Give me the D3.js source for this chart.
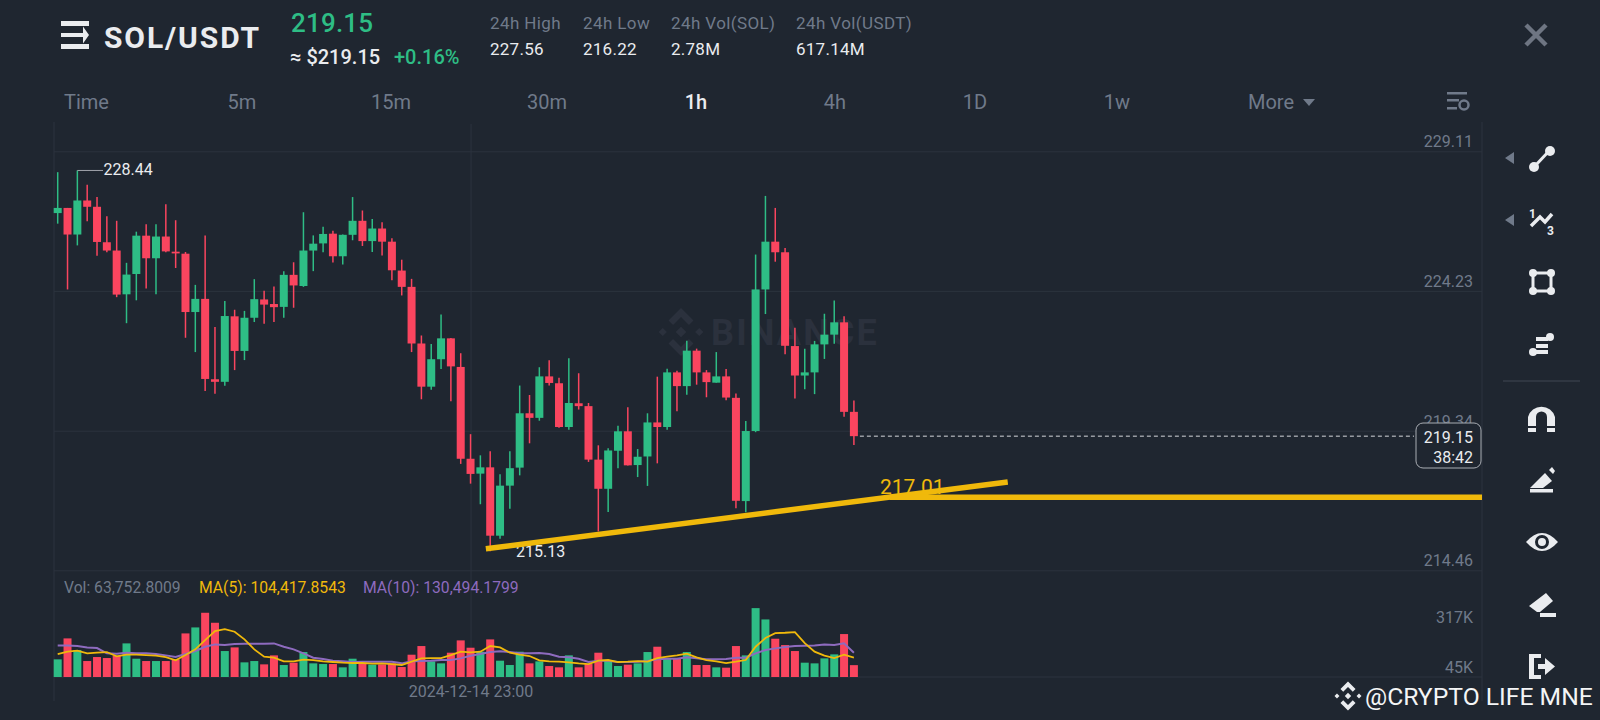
<!DOCTYPE html>
<html>
<head>
<meta charset="utf-8">
<script src="https://cdn.jsdelivr.net/npm/d3@7"></script>
<style>
  html, body { margin: 0; padding: 0; background: #1F2630; overflow: hidden; }
  text { font-family: Roboto, sans-serif; }
</style>
</head>
<body>
<div id="my_dataviz"></div>
<script>
// candles, one entry per hour
var opens = [226.95, 227.13, 226.20, 227.39, 227.17, 225.93, 225.64, 224.11, 224.82, 226.16,
  225.37, 226.13, 225.60, 225.53, 223.49, 223.95, 221.14, 221.05, 223.34, 222.13,
  223.29, 223.93, 223.77, 223.67, 224.79, 224.40, 225.64, 225.89, 226.23, 225.44,
  226.19, 226.68, 225.97, 226.41, 225.95, 224.94, 224.37, 222.39, 220.88, 221.84,
  222.57, 221.57, 218.36, 217.84, 218.06, 215.67, 217.42, 218.05, 219.95, 219.79,
  221.24, 221.00, 219.47, 220.30, 220.20, 218.33, 217.31, 218.64, 219.32, 218.14,
  218.44, 219.63, 219.47, 221.38, 220.90, 222.14, 221.38, 221.02, 221.24, 220.49,
  216.88, 219.33, 224.28, 225.95, 225.58, 222.30, 221.27, 221.38, 222.36, 222.70,
  223.13, 220.00];
var highs = [228.38, 227.13, 228.44, 227.94, 227.51, 226.84, 226.68, 225.21, 226.30, 226.56,
  226.56, 227.26, 226.70, 225.59, 224.44, 226.17, 222.97, 223.88, 223.57, 223.53,
  224.64, 224.23, 224.38, 224.92, 225.23, 226.98, 226.17, 226.47, 226.33, 226.20,
  227.51, 227.04, 226.74, 226.63, 226.07, 225.32, 224.65, 222.67, 222.37, 223.40,
  222.58, 222.05, 219.22, 218.48, 218.62, 217.82, 218.62, 220.92, 220.59, 221.56,
  221.80, 221.19, 221.87, 221.35, 220.31, 218.83, 218.73, 219.51, 220.16, 218.70,
  219.95, 221.23, 221.51, 221.44, 222.49, 222.21, 221.46, 222.09, 221.50, 220.64,
  219.68, 225.50, 227.55, 227.13, 225.73, 222.94, 222.21, 222.48, 223.43, 223.89,
  223.34, 220.40];
var lows = [226.58, 224.28, 225.82, 226.66, 225.46, 225.58, 224.01, 223.10, 223.90, 224.31,
  224.11, 225.58, 225.03, 222.59, 222.09, 220.73, 220.63, 220.91, 221.46, 221.81,
  223.14, 223.08, 223.14, 223.29, 223.64, 224.37, 224.92, 225.58, 225.22, 225.15,
  226.00, 225.80, 225.59, 225.47, 224.60, 224.07, 222.09, 220.44, 220.77, 221.50,
  220.37, 218.18, 217.49, 216.77, 215.13, 215.56, 216.61, 217.78, 218.90, 219.69,
  220.92, 219.44, 219.37, 220.08, 218.25, 215.82, 216.50, 218.03, 218.12, 217.72,
  217.41, 218.20, 219.37, 220.02, 220.60, 220.95, 220.51, 221.02, 220.41, 216.63,
  216.49, 219.29, 223.42, 225.25, 222.01, 220.47, 220.79, 220.62, 221.85, 222.38,
  219.83, 218.84];
var closes = [227.13, 226.20, 227.39, 227.17, 225.94, 225.64, 224.10, 224.80, 226.16, 225.37,
  226.13, 225.61, 225.54, 223.49, 223.95, 221.15, 221.05, 223.35, 222.13, 223.29,
  223.94, 223.75, 223.66, 224.79, 224.42, 225.64, 225.88, 226.22, 225.44, 226.19,
  226.68, 225.97, 226.41, 225.95, 224.95, 224.37, 222.39, 220.88, 221.84, 222.57,
  221.59, 218.36, 217.83, 218.06, 215.67, 217.42, 218.03, 219.95, 219.79, 221.24,
  221.01, 219.47, 220.31, 220.20, 218.33, 217.31, 218.65, 219.32, 218.13, 218.43,
  219.63, 219.47, 221.38, 220.90, 222.14, 221.38, 221.04, 221.24, 220.50, 216.89,
  219.33, 224.28, 225.95, 225.58, 222.31, 221.27, 221.38, 222.36, 222.70, 223.13,
  220.00, 219.15];

// volume pane, in thousands
var volumes = [94.8, 207.4, 144.8, 85.8, 107.3, 101.9, 114.4, 180.6, 98.3, 85.8,
  85.8, 85.8, 94.8, 234.2, 266.4, 345.1, 291.4, 139.5, 159.1, 78.7,
  85.8, 67.9, 116.2, 64.4, 76.9, 134.1, 73.3, 69.7, 69.7, 51.9,
  98.3, 71.5, 66.2, 67.9, 73.3, 53.6, 119.8, 166.3, 84.0, 73.3,
  130.5, 196.7, 157.3, 135.9, 202.0, 87.6, 64.4, 135.9, 73.3, 84.0,
  59.0, 51.9, 116.2, 51.9, 69.7, 130.5, 87.6, 59.0, 66.2, 73.3,
  134.1, 162.7, 100.1, 100.1, 134.1, 64.4, 64.4, 51.9, 50.1, 166.3,
  116.2, 370.1, 309.3, 205.6, 171.6, 139.5, 76.9, 73.3, 100.1, 121.6,
  230.7, 63.75];
var ma5 = [123.4, 135.9, 141.3, 127.0, 130.5, 134.1, 110.9, 119.8, 119.8, 118.0,
  114.4, 107.3, 89.4, 118.0, 148.4, 198.5, 246.7, 257.5, 243.2, 202.0,
  148.4, 109.1, 103.7, 84.0, 84.0, 93.0, 91.2, 84.0, 80.5, 76.9,
  75.1, 75.1, 71.5, 73.3, 69.7, 64.4, 82.2, 100.1, 101.9, 101.9,
  118.0, 135.9, 132.3, 135.9, 166.3, 159.1, 130.5, 119.8, 112.6, 89.4,
  84.0, 82.2, 78.7, 73.3, 69.7, 87.6, 91.2, 80.5, 82.2, 85.8,
  82.2, 101.9, 109.1, 116.2, 125.2, 105.5, 91.2, 84.0, 75.1, 82.2,
  91.2, 162.7, 209.2, 236.0, 237.8, 241.4, 182.4, 135.9, 114.4, 101.9,
  119.8, 104.4];
var ma10 = [169.9, 169.9, 166.3, 159.1, 155.6, 127.0, 125.2, 130.5, 127.0, 127.0,
  123.4, 116.2, 107.3, 123.4, 139.5, 162.7, 175.2, 171.6, 177.0, 178.8,
  178.8, 178.8, 180.6, 162.7, 148.4, 127.0, 103.7, 96.6, 87.6, 84.0,
  80.5, 82.2, 82.2, 82.2, 82.2, 73.3, 84.0, 85.8, 87.6, 91.2,
  91.2, 100.1, 114.4, 123.4, 134.1, 137.7, 134.1, 127.0, 127.0, 128.7,
  123.4, 109.1, 105.5, 98.3, 80.5, 87.6, 87.6, 80.5, 80.5, 82.2,
  85.8, 94.8, 98.3, 98.3, 105.5, 100.1, 94.8, 94.8, 96.6, 103.7,
  103.7, 127.0, 144.8, 153.8, 160.9, 166.3, 168.1, 169.9, 175.2, 171.6,
  180.6, 130.5];

// axis labels
var priceTicks = [229.11, 224.23, 219.34, 214.46];
var volumeTicks = [317, 45];
var timeTickIndex = [42];
var timeTickLabels = ["2024-12-14 23:00"];

// hand drawn levels: [candle index, price]
var trendLine = [[43.56, 215.21], [96.65, 217.55]];
var supportLevel = [[84.65, 217.01], [144.9, 217.01]];

// header text
var statLabels = ["24h High", "24h Low", "24h Vol(SOL)", "24h Vol(USDT)"];
var statValues = ["227.56", "216.22", "2.78M", "617.14M"];
var tabs = ["Time", "5m", "15m", "30m", "1h", "4h", "1D", "1w", "More"];

var GREEN = "#2EBD85", RED = "#FA455F", YELLOW = "#F0B90B", PURPLE = "#8E6BBF";
var GREY = "#707A8A", GRID = "#2C333E";

var svg = d3.select("#my_dataviz")
  .append("svg")
    .attr("width", 1600)
    .attr("height", 720)
    .style("display", "block");

// scales
var x = d3.scaleLinear().domain([0, 81]).range([57.7, 853.9]);
var y = d3.scaleLinear().domain([214.46, 229.11]).range([570.3, 151.3]);
var yVol = d3.scaleLinear().domain([0, 317]).range([677, 618]);

function txt(s, px, py, size, fill, anchor, weight) {
  return svg.append("text")
    .attr("x", px).attr("y", py)
    .attr("font-size", size)
    .attr("fill", fill)
    .attr("text-anchor", anchor || "start")
    .attr("font-weight", weight || 400)
    .text(s);
}

// BINANCE mark, drawn in a -1..1 box
var logoPath = "M0,-.22L.22,0L0,.22L-.22,0Z" +
  "M-.76,-.17L-.59,0L-.76,.17L-.93,0Z" +
  "M.76,-.17L.93,0L.76,.17L.59,0Z" +
  "M0,-1L.52,-.48L.33,-.29L0,-.62L-.33,-.29L-.52,-.48Z" +
  "M0,1L.52,.48L.33,.29L0,.62L-.33,.29L-.52,.48Z";

// watermark behind the candles
svg.append("path").attr("d", logoPath)
  .attr("transform", "translate(681,332) scale(24)")
  .attr("fill", "#2B313D");
txt("BINANCE", 711, 345, 36, "#2B313D", "start", 700).attr("letter-spacing", 2.2);

// frame
svg.append("line").attr("x1", 54).attr("x2", 54).attr("y1", 122).attr("y2", 701).attr("stroke", GRID);
svg.append("line").attr("x1", 1482).attr("x2", 1482).attr("y1", 122).attr("y2", 701).attr("stroke", GRID);
svg.append("line").attr("x1", 54).attr("x2", 1482).attr("y1", 677).attr("y2", 677).attr("stroke", GRID);

// price axis, ticks stretched across as the grid
var priceAxis = svg.append("g")
  .attr("transform", "translate(1482,0)")
  .call(d3.axisLeft(y).tickValues(priceTicks).tickSize(1428).tickFormat(d3.format(".2f")));
priceAxis.select(".domain").remove();
priceAxis.selectAll("line").attr("stroke", GRID);
priceAxis.selectAll("text")
  .attr("x", -9).attr("dy", "-0.27em")
  .attr("font-size", 16).attr("fill", GREY)
  .style("font-family", "Roboto, sans-serif");

// volume axis
var volAxis = svg.append("g")
  .attr("transform", "translate(1482,0)")
  .call(d3.axisLeft(yVol).tickValues(volumeTicks).tickSize(0).tickFormat(function(d) { return d + "K"; }));
volAxis.select(".domain").remove();
volAxis.selectAll("text")
  .attr("x", -9).attr("dy", "0.25em")
  .attr("font-size", 16).attr("fill", GREY)
  .style("font-family", "Roboto, sans-serif");

// time axis with its one vertical grid line
var timeAxis = svg.append("g")
  .attr("transform", "translate(0,677)")
  .call(d3.axisBottom(x).tickValues(timeTickIndex).tickSize(-553)
    .tickFormat(function(d, i) { return timeTickLabels[i]; }));
timeAxis.select(".domain").remove();
timeAxis.selectAll("line").attr("stroke", GRID);
timeAxis.selectAll("text")
  .attr("y", 9).attr("dy", "0.71em")
  .attr("font-size", 16).attr("fill", GREY)
  .style("font-family", "Roboto, sans-serif");

// candles
var candles = d3.range(closes.length);
function candleColor(i) { return closes[i] >= opens[i] ? GREEN : RED; }

svg.append("g").selectAll("line")
  .data(candles).enter().append("line")
    .attr("x1", function(i) { return x(i); })
    .attr("x2", function(i) { return x(i); })
    .attr("y1", function(i) { return y(highs[i]); })
    .attr("y2", function(i) { return y(lows[i]); })
    .attr("stroke", candleColor)
    .attr("stroke-width", 1.5);

svg.append("g").selectAll("rect")
  .data(candles).enter().append("rect")
    .attr("x", function(i) { return x(i) - 4; })
    .attr("width", 8)
    .attr("y", function(i) { return y(Math.max(opens[i], closes[i])); })
    .attr("height", function(i) { return Math.max(1.5, Math.abs(y(opens[i]) - y(closes[i]))); })
    .attr("fill", candleColor);

// volume bars
svg.append("g").selectAll("rect")
  .data(candles).enter().append("rect")
    .attr("x", function(i) { return x(i) - 4; })
    .attr("width", 8)
    .attr("y", function(i) { return yVol(volumes[i]); })
    .attr("height", function(i) { return yVol(0) - yVol(volumes[i]); })
    .attr("fill", candleColor);

// moving averages
var volLine = d3.line()
  .x(function(d, i) { return x(i); })
  .y(function(d) { return yVol(d); });
svg.append("path").attr("d", volLine(ma10)).attr("fill", "none").attr("stroke", PURPLE).attr("stroke-width", 2);
svg.append("path").attr("d", volLine(ma5)).attr("fill", "none").attr("stroke", YELLOW).attr("stroke-width", 1.8);

// volume legend
txt("Vol: 63,752.8009", 64, 593, 15.7, GREY);
txt("MA(5): 104,417.8543", 199, 593, 15.7, YELLOW);
txt("MA(10): 130,494.1799", 363, 593, 15.7, PURPLE);

// high and low markers
var hiIdx = highs.indexOf(d3.max(highs));
svg.append("path")
  .attr("d", "M" + x(hiIdx) + "," + y(highs[hiIdx]) + "H103")
  .attr("stroke", "#A0A4AB").attr("fill", "none");
txt(d3.format(".2f")(highs[hiIdx]), 103.5, y(highs[hiIdx]) + 4.5, 16, "#EAECEF");
var loIdx = lows.indexOf(d3.min(lows));
txt(d3.format(".2f")(lows[loIdx]), 516, y(lows[loIdx]) + 5.5, 16, "#EAECEF");

// last price line and tag
var last = closes[closes.length - 1];
svg.append("line")
  .attr("x1", x(81) + 6).attr("x2", 1414)
  .attr("y1", y(last)).attr("y2", y(last))
  .attr("stroke", "#D5D7DB").attr("stroke-dasharray", "4,3");
svg.append("rect")
  .attr("x", 1416).attr("y", 423).attr("width", 65).attr("height", 45).attr("rx", 7)
  .attr("fill", "#1F2630").attr("stroke", "#A9ADB3").attr("stroke-width", 1);
txt(d3.format(".2f")(last), 1473, 443, 16, "#EAECEF", "end");
txt("38:42", 1473, 462.5, 16, "#EAECEF", "end");

// user drawn lines
var priceLine = d3.line()
  .x(function(d) { return x(d[0]); })
  .y(function(d) { return y(d[1]); });
svg.append("path").attr("d", priceLine(trendLine)).attr("fill", "none").attr("stroke", YELLOW).attr("stroke-width", 5.5);
svg.append("path").attr("d", priceLine(supportLevel)).attr("fill", "none").attr("stroke", YELLOW).attr("stroke-width", 5.5);
txt("217.01", 880, 494, 21, YELLOW);

// header
svg.append("path").attr("d", "M61,21H89V26H61ZM61,33H83V26.5L89,35L83,43.5V37H61ZM61,44H89V49H61Z").attr("fill", "#EAECEF");
txt("SOL/USDT", 104, 48, 30, "#EAECEF", "start", 700).attr("letter-spacing", 1.9);
txt("219.15", 291, 32, 26, GREEN, "start", 500).attr("letter-spacing", 0.2);
txt("≈ $219.15", 290, 64, 20, "#EAECEF", "start", 500);
txt("+0.16%", 394, 64, 20, GREEN, "start", 500);

var statX = [490, 583, 671, 796];
statLabels.forEach(function(s, i) {
  txt(s, statX[i], 29, 17, GREY).attr("letter-spacing", 0.4);
  txt(statValues[i], statX[i], 55, 17, "#EAECEF").attr("letter-spacing", 0.25);
});

var tabX = [64, 242, 391, 547, 696, 835, 975, 1117, 1271];
tabs.forEach(function(s, i) {
  txt(s, tabX[i], 109, 20, s === "1h" ? "#EAECEF" : GREY, i === 0 ? "start" : "middle", s === "1h" ? 500 : 400);
});
svg.append("path").attr("d", "M1303,99H1315L1309,106Z").attr("fill", GREY);

// close cross
svg.append("path").attr("d", "M1526,25L1546,45M1546,25L1526,45")
  .attr("stroke", "#6E7582").attr("stroke-width", 4.5).attr("fill", "none");

// chart settings icon
var settings = svg.append("g").attr("transform", "translate(1458,102)").attr("fill", GREY);
settings.append("rect").attr("x", -11).attr("y", -10).attr("width", 20).attr("height", 2.5);
settings.append("rect").attr("x", -11).attr("y", -3).attr("width", 12).attr("height", 2.5);
settings.append("rect").attr("x", -11).attr("y", 5).attr("width", 10).attr("height", 2.5);
settings.append("circle").attr("cx", 6).attr("cy", 3).attr("r", 4.5).attr("fill", "none").attr("stroke", GREY).attr("stroke-width", 2.5);

// right tool bar
var ICON = "#EAECEF";
svg.append("line").attr("x1", 1503).attr("x2", 1580).attr("y1", 381).attr("y2", 381).attr("stroke", "#2F3641").attr("stroke-width", 2);
svg.append("path").attr("d", "M1514,152V164L1505,158ZM1514,214V226L1505,220Z").attr("fill", GREY);

// trend line tool
var tool = svg.append("g").attr("fill", ICON);
tool.append("path").attr("d", "M1534,167L1550,150").attr("stroke", ICON).attr("stroke-width", 3);
tool.append("circle").attr("cx", 1534).attr("cy", 167).attr("r", 5);
tool.append("circle").attr("cx", 1550).attr("cy", 151).attr("r", 5);
// fib tool
tool.append("path").attr("d", "M1531,226L1540,217L1545,222L1552,214").attr("stroke", ICON).attr("stroke-width", 3.5).attr("fill", "none");
txt("1", 1529, 218, 12, ICON, "start", 700);
txt("3", 1547, 235, 12, ICON, "start", 700);
// rectangle tool
tool.append("rect").attr("x", 1533).attr("y", 273).attr("width", 18).attr("height", 18).attr("fill", "none").attr("stroke", ICON).attr("stroke-width", 3);
[[1533, 273], [1551, 273], [1533, 291], [1551, 291]].forEach(function(p) {
  tool.append("circle").attr("cx", p[0]).attr("cy", p[1]).attr("r", 4);
});
// level tool
tool.append("path").attr("d", "M1536,337H1548V341H1536ZM1536,344H1548V348H1536ZM1536,350H1548V354H1536Z");
tool.append("circle").attr("cx", 1550).attr("cy", 337).attr("r", 4);
tool.append("circle").attr("cx", 1533).attr("cy", 352).attr("r", 4);
// magnet
tool.append("path").attr("d", "M1528,426V417A14,14 0 0 1 1555,417V426H1547V417A5.5,5.5 0 0 0 1536,417V426Z");
tool.append("path").attr("d", "M1528,428H1536V432H1528ZM1547,428H1555V432H1547Z");
// pencil
tool.append("path").attr("d", "M1530,488L1545,473L1552,481L1543,488Z");
tool.append("path").attr("d", "M1549,470L1552,467L1555,471L1553,474Z");
tool.append("path").attr("d", "M1530,489H1553V492.5H1530Z");
// eye
tool.append("path").attr("fill-rule", "evenodd").attr("d", "M1526,542Q1542,524 1558,542Q1542,560 1526,542ZM1542,535A7,7 0 1 0 1542,549A7,7 0 1 0 1542,535ZM1542,538A4,4 0 1 1 1542,546A4,4 0 1 1 1542,538Z");
// eraser
tool.append("path").attr("d", "M1529,606L1546,593L1553,601L1540,612H1537ZM1540,613H1556V617H1540Z");
// exit
tool.append("path").attr("d", "M1529,654H1541V658H1534V675H1541V679H1529ZM1538,664H1545V658L1555,666.5L1545,675V669H1538Z");

// bottom right stamp
svg.append("path").attr("d", logoPath)
  .attr("transform", "translate(1348,696) scale(14.5)")
  .attr("fill", "#EAECEF");
txt("@CRYPTO LIFE MNE", 1365, 705, 24.7, "#F4F5F6");
</script>
</body>
</html>
